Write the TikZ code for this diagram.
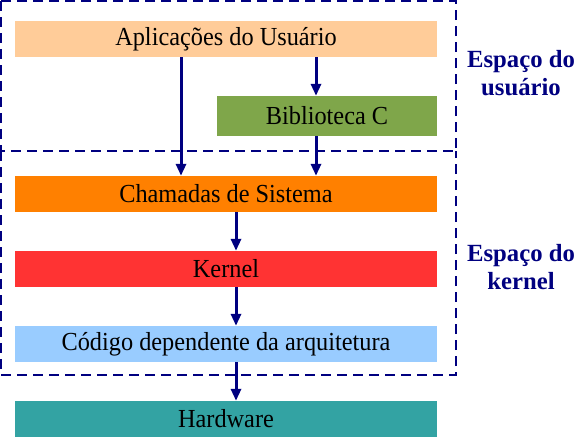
\documentclass[tikz,border=0pt]{standalone}
\usepackage{fontspec}
\setmainfont{Liberation Serif}
\newfontfamily\layerfont[FakeStretch=0.935]{Liberation Serif}
\usetikzlibrary{arrows.meta}
\definecolor{navy}{HTML}{000080}
\definecolor{peach}{HTML}{FFCC99}
\definecolor{libgreen}{HTML}{7FA64A}
\definecolor{sysorange}{HTML}{FF8000}
\definecolor{kernred}{HTML}{FF3333}
\definecolor{archblue}{HTML}{99CCFF}
\definecolor{hwteal}{HTML}{33A3A3}
\begin{document}
\begin{tikzpicture}[x=1pt,y=-1pt,
  layer/.style={rectangle,inner sep=0pt,minimum width=422pt,minimum height=36pt,font=\layerfont\fontsize{26}{30}\selectfont},
  arr/.style={draw=navy,line width=3pt,-{Triangle[width=10pt,length=12pt]}},
  space/.style={draw=navy,line width=2.5pt,dash pattern=on 10pt off 6pt},
  spacelabel/.style={align=center,text=navy,font=\fontsize{24.7}{27.6}\selectfont\bfseries}]

\useasboundingbox (0,0) rectangle (578,437);

%SPACES
% user space
\draw[space] (1,1) rectangle (456,151);
% kernel space (top edge shared with user space)
\draw[space] (1,151) -- (1,375) -- (456,375) -- (456,151);

%BOXES
\node[layer,fill=peach] (apps) at (226,39) {Aplicações do Usuário};
\node[layer,fill=libgreen,minimum width=220pt,minimum height=40pt] (libc) at (327,116) {Biblioteca C};
\node[layer,fill=sysorange] (calls) at (226,194) {Chamadas de Sistema};
\node[layer,fill=kernred] (kernel) at (226,269) {Kernel};
\node[layer,fill=archblue] (arch) at (226,344) {Código dependente da arquitetura};
\node[layer,fill=hwteal] (hw) at (226,419) {Hardware};

%ARROWS
\draw[arr] (apps.south -| 181,0) -- (calls.north -| 181,0);
\draw[arr] (apps.south -| 316,0) -- (libc.north -| 316,0);
\draw[arr] (libc.south -| 316,0) -- (calls.north -| 316,0);
\draw[arr] (calls.south -| 236,0) -- (kernel.north -| 236,0);
\draw[arr] (kernel.south -| 236,0) -- (arch.north -| 236,0);
\draw[arr] (arch.south -| 236,0) -- (hw.north -| 236,0);

%LABELS
\node[spacelabel] (userlbl) at (521,73) {Espaço do\\usuário};
\node[spacelabel] (kernlbl) at (521,267) {Espaço do\\kernel};

\end{tikzpicture}
\end{document}
